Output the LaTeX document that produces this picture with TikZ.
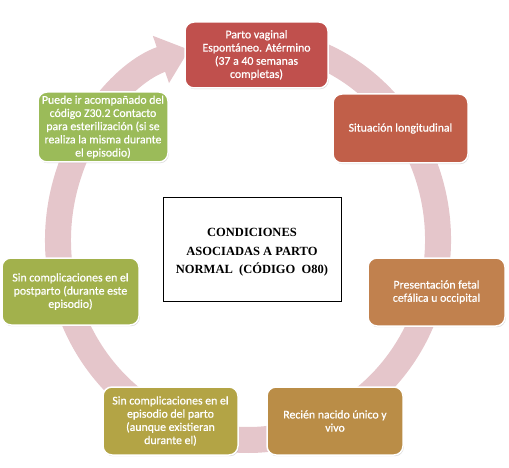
\documentclass[tikz,border=0pt]{standalone}
\usepackage{fontspec}
\setmainfont{Carlito}[FakeBold=0.7]
\newfontfamily\boxfont{Carlito}[FakeBold=0.7]
\newfontfamily\timesfont{Liberation Serif}
\usetikzlibrary{arrows.meta,shadows}
\definecolor{ringc}{HTML}{E5C6CB}
\definecolor{cA}{HTML}{C0504D}
\definecolor{cB}{HTML}{C15F49}
\definecolor{cC}{HTML}{C1814E}
\definecolor{cD}{HTML}{BA8D47}
\definecolor{cE}{HTML}{B3A445}
\definecolor{cF}{HTML}{A2B14C}
\definecolor{cG}{HTML}{9BBB59}
\begin{document}
\begin{tikzpicture}[x=1pt,y=1pt,
  box/.style={draw=white, line width=1.5pt, rounded corners=9pt, text=white,
    font=\boxfont\fontsize{11.8}{13.2}\selectfont, align=center, inner sep=0pt,
    drop shadow={shadow xshift=0.8pt, shadow yshift=-1.2pt, opacity=0.3}},
  centerbox/.style={draw=black, line width=0.8pt, fill=white},
  centertext/.style={align=center, inner sep=0pt,
    font=\timesfont\bfseries\fontsize{12.5}{18.5}\selectfont},
  ring/.style={ringc, line width=26pt, -{Triangle[length=30pt,width=48pt]}}
]
\useasboundingbox (0,0) rectangle (509,-468);
% ring arrow
\draw[ring] (281,-43) arc[start angle=80, end angle=-252, x radius=190, y radius=200];
% boxes
\node[box, fill=cA, minimum width=143pt, minimum height=66pt] (b1) at (256.5,-55)
  {Parto vaginal\\Espontáneo. Atérmino\\(37 a 40 semanas\\completas)};
\node[box, fill=cB, minimum width=135pt, minimum height=69pt] (b2) at (400.5,-128.5)
  {Situación longitudinal};
\node[box, fill=cC, minimum width=137pt, minimum height=68pt] (b3) at (436.5,-292)
  {Presentación fetal\\cefálica u occipital};
\node[box, fill=cD, minimum width=136pt, minimum height=68pt] (b4) at (335,-421)
  {Recién nacido único y\\vivo};
\node[box, fill=cE, minimum width=135pt, minimum height=68pt] (b5) at (170.5,-421)
  {Sin complicaciones en el\\episodio del parto\\(aunque existieran\\durante el)};
\node[box, fill=cF, minimum width=137pt, minimum height=67pt] (b6) at (70.5,-291.5)
  {Sin complicaciones en el\\postparto (durante este\\episodio)};
\node[box, fill=cG, minimum width=130pt, minimum height=70pt] (b7) at (103,-127)
  {Puede ir acompañado del\\código Z30.2 Contacto\\para esterilización (si se\\realiza la misma durante\\el episodio)};
% centre
\node[centerbox, minimum width=178pt, minimum height=104pt] (c) at (252,-249) {};
\node[centertext] (ct) at ([yshift=-3.5pt]c.center)
  {CONDICIONES\\ASOCIADAS A PARTO\\NORMAL\ \ (CÓDIGO\ \ O80)};
\end{tikzpicture}
\end{document}
